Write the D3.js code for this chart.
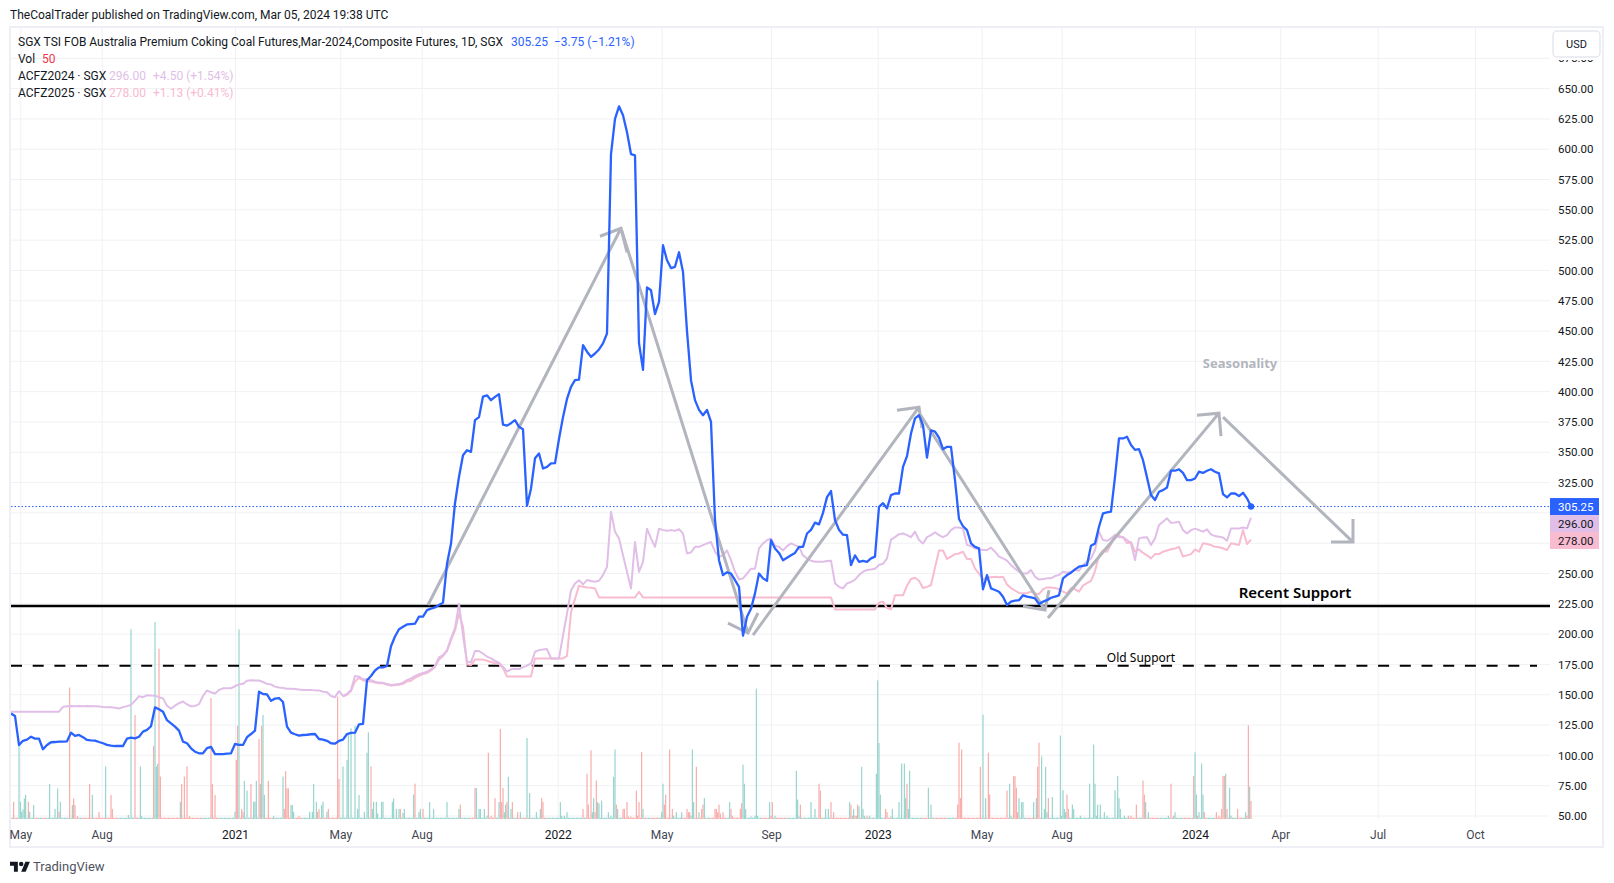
<!DOCTYPE html>
<html>
<head>
<meta charset="utf-8">
<title>Coking Coal Futures</title>
<script src="https://cdn.jsdelivr.net/npm/d3@7"></script>
<style>
  body { margin: 0; background: #fff; }
  svg { display: block; font-family: Roboto, sans-serif; }
</style>
</head>
<body>
<svg id="chart" width="1614" height="883"></svg>
<script>
// closes, one value every 3 sessions
var sessionStep = 3;
var frontMonth = [
  134.5,132.5,108.5,112,113,115.4,113.8,113.8,105,108.6,
  110.8,111,111.3,111.3,111.6,118.7,116,116.8,115,112.7,
  112.4,112.2,111,110,108.6,108,107.7,107.7,107.7,113.8,
  114.6,114,115.4,119.6,121,124,139.6,138,136,129,
  126.4,123.7,120.4,111.3,110,105.8,103,101.7,101.7,106,
  107,101,101,101,101.4,101.7,109.4,108.6,108.6,115,
  117.6,120.4,152.5,150.6,150.3,145,146.8,147.3,144,123.7,
  118.7,117.4,116.3,116.8,117,117.4,117.6,113.5,113,112,
  110,109.6,112,113,117.6,118.5,118.7,125.6,126,162,
  165.5,170,172.6,172.6,173.7,190,198,204,206,208,
  208.3,208.6,214.4,214.4,219.8,221,222,224,226,258,
  274.5,308,329.8,347.6,351.7,350.4,376.5,379,396,397,
  393,395.7,398,372.9,372,374,376.5,371,369,306,
  320,345,349,336.6,338,340.8,341,361,379,394,
  404,409.5,410,438.4,433,428.8,431.5,434.8,439.8,448,
  596,625,635.4,628,614,596,595,440,418,486,
  483.7,464,474,520.8,508.4,502,503,515,498.8,450,
  409.5,393,385,380.6,385,375,294,261,248.7,251,
  250,244.6,239,198.7,214.3,221,233.6,250,246,244,
  277.5,270.7,267,261,263,265,267,272,272,283,
  286,292,290.5,300,313,318,294,286,282,281.7,
  257,265,259.7,260.5,259.7,262.5,263.9,305,308,303.7,
  314.7,316,316,338,346.8,365.5,378,380.6,372.4,345.7,
  368,367,362,352.6,354.5,354.5,327,295,289,285.8,
  274.8,272,270.7,237,248.7,237.7,236.4,235,230.9,224,
  226.8,227.6,228,232,230.9,230.3,229.5,224.8,226.8,228,
  230,231,232,246,248.7,250.7,253.4,255.6,256.4,257,
  273,274.8,288.6,299.6,300.4,301,329.8,361.4,361.4,362.8,
  356,352,352.6,343.5,329.3,314.7,310.6,317.4,318.8,321,
  334.8,334.8,335.9,333,327,327,328.4,334,333,334.8,
  336,334,332.6,315.5,312.8,316,316,313.9,316.6,312,
  305.25
];
var acfz2024 = [
  136,136,136,136,136,136,136,136,136,136,
  136,136,136,140,140.5,140.7,140.5,140.7,140.6,140.7,
  140.6,140.6,140.4,139.8,139.6,139.6,139.2,138.6,139.8,140.6,
  141.6,145,148.8,148,149.5,149.3,149.2,148,147,141,
  138.5,141,143,144.4,142,140.5,140.8,142.3,149,153.5,
  152,151,154,155.3,155.3,155.3,157,158.5,159,161.5,
  162,161.8,161.7,160.5,159,158.5,156.7,156,155.6,155,
  155,154.7,154.3,154,154,153.9,153.6,153.6,152.5,152,
  149,148,153,149,150.6,154,165.4,164.9,162.7,162.7,
  162,160.7,160,159.9,158.8,158,158.5,158.8,160,162,
  163.5,165.4,167,168,169,171,173.7,180.8,182.7,186.8,
  196.5,205,225,199,177,177,186,186,184,181.4,
  180,178,176.4,173,169,171,171.5,171.2,172.6,174,
  175.8,185.5,186.8,187.4,187.7,180,180,180,199,217,
  236,241.8,244.5,241,244.6,243.8,243.2,244,248.7,255.6,
  300.9,284.4,279,265,251.4,237.7,276,251.4,259.7,287,
  279,272,287,285.8,285.2,285.8,285.2,286.6,283,266.6,
  267.4,272,272,273.4,274.8,276,268,263.8,265,269,
  261,251.4,245,246,250,254,254,270.7,274.8,277.5,
  278.9,272.9,272,269,272.6,274.8,273.4,272,265,262.5,
  260.6,259.7,259.7,259.7,260.3,260.6,241.9,239,237.7,241.9,
  243,245,248.7,251.5,252.9,253.4,254,257,258,262.5,
  278,280,282.5,283,281.7,280,284.5,277.6,274.8,280,
  281.7,284,281.7,280,281.7,285.8,288,288,287,273.5,
  272.6,270.7,269.9,269.4,269.4,271.3,268,263.9,262.5,260.6,
  257,254,251.5,250,250,252.9,247.4,245,245.4,246,
  246,247.9,248.7,251.5,250.7,251.5,252.9,252.3,257,259.7,
  262.5,269.4,284.5,277.6,277,279,281.7,280,280,277.6,
  274.8,261,279,279.8,280,273.5,279,290,292.7,295.5,
  291.9,292,292.7,285.8,283,285.8,287,285.8,284.5,286.4,
  282.3,280.9,280.4,279.8,277,287.2,287.2,287.2,288,287.2,
  296
];
// the 2025 contract only shows from here, before that it sits under the 2024 line
var acfz2025Start = 83;
var acfz2025 = [
  148.5,150,153,161,164,162,161,
  161,160,159.5,159.5,158.5,157.5,158,158.3,159,161,
  161.5,164,165.5,167,168,170,173,179,182,186,
  195,203,217,206,175,174.5,179,179,179,178,
  177,176,175.5,172,165,165,165,165,165,165,
  165,180,180,180,180,180,180,180,180,182,
  218,229,240,239,238.5,238.3,237.7,230.3,230.3,230.3,
  230.3,230.3,230.3,230.3,230.3,230.3,230.3,235,230.3,230.3,
  230.3,230.3,230.3,230.3,230.3,230.3,230.3,230.3,230.3,230.3,
  230.3,230.3,230.3,230.3,230.3,230.3,230.3,230.3,230.3,230.3,
  230.3,230.3,230.3,230.3,230.3,230.3,230.3,230.3,230.3,230.3,
  230.3,230.3,230.3,230.3,230.3,230.3,230.3,230.3,230.3,230.3,
  230.3,230.3,230.3,230.3,230.3,230.3,220.4,220.4,220.4,220.4,
  220.4,220.4,220.4,220.4,220.4,220.4,220.4,226,226.8,221.5,
  220.4,232,232,232,240,245.5,246.5,244,238,239,
  240.5,255,269,269,262,264,266,266.5,268,262,
  262,254,250,245,247,247,247.4,247,247.4,241,
  238,236,234,233.6,234,235,233.6,233,237,238.5,
  238.5,238,237,235,233.6,238,237,235,240,242,
  244,252,265,269,268,274,282,281,280,275,
  276,268,270,267,265,262.5,266,266,268,269,
  270,270.6,272,264,265,266,270,268,274.9,274.3,
  273.5,272,271.6,270.8,269.4,274.9,274.3,273.5,285.9,274.3,
  278
];

// volume, only the sessions that stand out from the floor
var upSessions = [6,7,8,9,10,11,14,17,29,33,35,37,46,61,71,88,90,97,98,108,109,110,127,168,171,175,177,182,183,184,187,189,190,197,204,210,211,212,224,226,227,229,233,234,237,249,252,253,255,258,260,261,265,267,268,271,272,274,275,278,279,286,287,289,291,294,295,302,306,307,314,317,327,336,349,351,352,355,357,366,370,371,373,375,382,387,389,394,397,412,413,415,417,436,437,440,441,443,448,450,452,453,455,474,488,489,497,499,503,510,511,512,516,520,539,549,550,551,555,558,559,560,569,573,589,590,591,600,603,611,613,629,632,634,636,638,639,640,644,649,650,651,652,660,661,666,668,670,671,673,674,688,690,729,731,749,750,756,758,759,767,769,773,775,776,777,781,787,788,789,790,791,796,797,802,809,812,813,814,815,817,820,822,828,830,831,832,835,851,853,868,873,888,889,891,893,894,911,914,915,926,929];
var upLots = [206,48,20,27,57,67,20,39,97,28,85,48,39,67,146,11,527,146,8,547,146,153,48,20,527,106,79,48,48,106,97,289,67,8,118,39,39,20,20,20,97,48,39,48,20,146,164,234,252,259,28,67,20,184,241,28,48,48,16,48,48,48,57,28,28,17,28,68,19,28,47,28,47,28,86,28,28,28,9,47,19,40,117,28,19,225,72,19,28,47,9,9,19,19,58,47,43,51,19,9,117,193,28,28,19,98,9,19,19,9,193,47,19,58,47,151,98,28,7,9,362,9,47,9,134,54,7,47,28,28,28,47,28,9,35,145,28,9,9,126,385,211,68,7,28,47,154,154,58,28,134,87,40,290,58,98,9,58,47,47,47,58,174,28,145,19,61,232,9,80,28,19,40,28,9,98,207,98,9,40,40,19,9,80,119,58,28,9,47,19,9,19,185,68,19,154,68,126,87,9,19,90];
var downSessions = [2,13,36,44,47,48,50,59,66,75,76,93,107,111,112,128,130,132,134,150,151,153,169,170,173,174,180,186,188,193,205,206,207,208,216,230,231,238,245,246,270,292,303,309,337,348,358,360,363,367,368,369,372,376,380,398,399,429,432,433,435,438,439,454,459,460,462,463,465,469,470,471,473,490,491,494,496,507,508,509,514,518,519,528,529,530,531,532,534,540,541,547,548,570,571,592,606,607,615,617,630,631,633,635,642,656,657,672,710,711,712,713,727,733,734,747,752,753,754,755,770,771,778,792,793,838,840,844,849,850,870,872,887,890,895,904,906,908,909,910,912,920,927,928,930];
var downLots = [48,48,20,365,57,39,8,97,20,67,28,289,203,473,118,97,118,146,8,336,97,67,164,259,28,20,97,222,259,106,28,133,85,85,8,20,28,28,340,111,146,28,98,28,40,86,184,9,58,250,47,86,47,47,19,58,47,28,126,40,191,19,107,40,28,28,47,7,7,79,9,47,186,40,68,193,28,28,19,19,145,28,40,28,28,19,40,15,19,28,9,28,44,9,47,40,98,79,47,19,40,9,9,40,9,28,19,98,40,212,58,193,145,184,68,79,119,119,87,19,145,212,58,68,28,9,9,40,107,68,98,9,119,9,19,19,9,28,120,119,28,28,9,260,50];
var volFloor = 3.5;

var priceTicks = [50,75,100,125,150,175,200,225,250,275,300,325,350,375,400,425,450,475,500,525,550,575,600,625,650,675];
var hiddenPriceLabels = [275,300];
var tickSessions = [7,68,168,247,308,410,488,570,650,728,788,888,952,1025,1098];
var tickLabels = ["May","Aug","2021","May","Aug","2022","May","Sep","2023","May","Aug","2024","Apr","Jul","Oct"];

var recentSupport = 223.3;
var oldSupport = 174;
var lastPrices = [
  { value: 305.25, fill: "#2962ff", text: "#ffffff" },
  { value: 296, fill: "#e1bee7", text: "#131722" },
  { value: 278, fill: "#f8bbd0", text: "#131722" }
];
// drawn arrows: start, tip, two barbs, as [session, price]
var arrows = [
  [[312.75,224],[457.5,534.8],[441.75,528.2],[462,515]],
  [[458,533],[552.75,200.9],[537.75,209],[560.25,217.4]],
  [[556.5,199.2],[681,387.2],[664.5,384.7],[683.25,370]],
  [[682,381],[775.5,219.8],[759,223],[778.5,236.3]],
  [[777.75,213.3],[906,382.3],[889.5,380.6],[907.5,363.3]],
  [[909,379],[1006.5,275.9],[990,275.9],[1006.5,294.9]]
];

var plotLeft = 11, plotRight = 1550, plotTop = 28, plotBottom = 819;
var svg = d3.select("#chart");

var x = d3.scaleLinear().domain([0, 1154.25]).range([plotLeft, plotRight]);
var y = d3.scaleLinear().domain([47.5, 700]).range([plotBottom, plotTop]);
var vol = d3.scaleLinear().domain([0, 550]).range([plotBottom, plotBottom - 198]);

svg.append("defs").append("clipPath").attr("id", "plot")
  .append("rect").attr("x", plotLeft).attr("y", plotTop).attr("width", plotRight - plotLeft).attr("height", plotBottom - plotTop);

// frame
svg.append("rect").attr("x", 10).attr("y", 27).attr("width", 1593).attr("height", 820)
  .attr("fill", "#fff").attr("stroke", "#eeeff5").attr("stroke-width", 2);

// vertical grid + time axis
var xAxis = d3.axisBottom(x).tickValues(tickSessions)
  .tickFormat(function (d, i) { return tickLabels[i]; })
  .tickSize(plotTop - plotBottom).tickPadding(0);
var xg = svg.append("g").attr("transform", "translate(0," + plotBottom + ")").call(xAxis);
xg.select(".domain").remove();
xg.selectAll("line").attr("stroke", "#f0f1f4");
xg.selectAll("text")
  .attr("y", 11).attr("font-size", 12).attr("font-family", "Roboto")
  .attr("fill", function (d, i) { return isNaN(+tickLabels[i]) ? "#434651" : "#131722"; });

// horizontal grid + price axis
var yAxis = d3.axisRight(y).tickValues(priceTicks)
  .tickFormat(d3.format(".2f"))
  .tickSize(0).tickPadding(8);
var yg = svg.append("g").attr("transform", "translate(" + plotRight + ",0)").call(yAxis);
yg.select(".domain").remove();
yg.selectAll("text").attr("font-size", 11.5).attr("font-family", "Roboto").attr("fill", "#131722")
  .style("display", function (d) { return hiddenPriceLabels.indexOf(d) >= 0 ? "none" : null; });
svg.append("g").selectAll("line").data(priceTicks).join("line")
  .attr("x1", plotLeft).attr("x2", plotRight)
  .attr("y1", function (d) { return y(d); }).attr("y2", function (d) { return y(d); })
  .attr("stroke", "#f0f1f4");

var plot = svg.append("g").attr("clip-path", "url(#plot)");

// volume bars
var up = {}, down = {};
upSessions.forEach(function (s, i) { up[s] = upLots[i]; });
downSessions.forEach(function (s, i) { down[s] = downLots[i]; });
var lastSession = (frontMonth.length - 1) * sessionStep;
var bars = d3.range(0, lastSession + 1).map(function (s) {
  if (up[s] !== undefined) return { s: s, lots: up[s], rising: true };
  if (down[s] !== undefined) return { s: s, lots: down[s], rising: false };
  var k = Math.floor(s / sessionStep);
  return { s: s, lots: volFloor, rising: k == 0 || frontMonth[k] >= frontMonth[k - 1] };
});
plot.append("g").selectAll("rect").data(bars).join("rect")
  .attr("x", function (d) { return x(d.s) - 0.55; })
  .attr("width", 1.1)
  .attr("y", function (d) { return vol(d.lots); })
  .attr("height", function (d) { return vol(0) - vol(d.lots); })
  .attr("fill", function (d) { return d.rising ? "#8fd1c9" : "#f7a5a3"; });

// support lines
plot.append("line").attr("x1", plotLeft).attr("x2", plotRight)
  .attr("y1", y(recentSupport)).attr("y2", y(recentSupport))
  .attr("stroke", "#000").attr("stroke-width", 2.5);
plot.append("line").attr("x1", plotLeft).attr("x2", 1537)
  .attr("y1", y(oldSupport)).attr("y2", y(oldSupport))
  .attr("stroke", "#000").attr("stroke-width", 2).attr("stroke-dasharray", "11 10.7");

// price lines
function drawLine(values, offset, color, width) {
  var line = d3.line()
    .x(function (d, i) { return x((i + offset) * sessionStep); })
    .y(function (d) { return y(d); });
  plot.append("path").datum(values)
    .attr("d", line)
    .attr("fill", "none").attr("stroke", color).attr("stroke-width", width)
    .attr("stroke-linejoin", "round");
}
drawLine(acfz2025, acfz2025Start, "#f8bbd0", 2);
drawLine(acfz2024, 0, "#e1bee7", 2);

// last price dotted line
plot.append("line").attr("x1", plotLeft).attr("x2", plotRight)
  .attr("y1", y(305.25)).attr("y2", y(305.25))
  .attr("stroke", "#2962ff").attr("stroke-width", 1).attr("stroke-dasharray", "1.5 2");

// arrows
var arrowLine = d3.line().x(function (d) { return x(d[0]); }).y(function (d) { return y(d[1]); });
arrows.forEach(function (a) {
  plot.append("path").attr("d", arrowLine([a[0], a[1]]) + arrowLine([a[2], a[1], a[3]]))
    .attr("fill", "none").attr("stroke", "#b2b5be").attr("stroke-width", 3)
    .attr("stroke-linejoin", "miter");
});

drawLine(frontMonth, 0, "#2962ff", 2.3);
plot.append("circle").attr("cx", x(lastSession)).attr("cy", y(305.25)).attr("r", 3.2).attr("fill", "#2962ff");

// notes on the chart
function note(txt, cx, cy, size, weight, color) {
  svg.append("text").attr("x", cx).attr("y", cy).attr("text-anchor", "middle").attr("dy", "0.35em")
    .attr("font-family", "Noto Sans")
    .attr("font-size", size).attr("font-weight", weight).attr("fill", color).text(txt);
}
note("Recent Support", 1295, 593, 15, 600, "#000");
note("Old Support", 1141, 658, 12, 400, "#000");
note("Seasonality", 1240, 363, 13, 700, "#b2b5be");

// last price boxes, stacked when they would overlap
var boxY = -100;
lastPrices.forEach(function (p) {
  boxY = Math.max(y(p.value), boxY + 17);
  svg.append("rect").attr("x", plotRight).attr("y", boxY - 8.5).attr("width", 49).attr("height", 17).attr("fill", p.fill);
  svg.append("text").attr("x", 1558).attr("y", boxY).attr("dy", "0.35em")
    .attr("font-size", 11.5).attr("fill", p.text).text(d3.format(".2f")(p.value));
});

// USD button covers the top tick
svg.append("rect").attr("x", plotRight + 1).attr("y", 28).attr("width", 51).attr("height", 32).attr("fill", "#fff");
svg.append("rect").attr("x", 1553).attr("y", 31).attr("width", 47).attr("height", 26).attr("rx", 4)
  .attr("fill", "#fff").attr("stroke", "#e6e8ef").attr("stroke-width", 1.5);
svg.append("text").attr("x", 1576.5).attr("y", 44).attr("dy", "0.35em").attr("text-anchor", "middle")
  .attr("font-size", 11).attr("fill", "#131722").text("USD");

// header + legend
function label(txt, lx, ly, color) {
  svg.append("text").attr("x", lx).attr("y", ly).attr("dy", "0.35em")
    .attr("font-size", 12).attr("fill", color).text(txt);
}
label("TheCoalTrader published on TradingView.com, Mar 05, 2024 19:38 UTC", 10, 15, "#131722");
label("SGX TSI FOB Australia Premium Coking Coal Futures,Mar-2024,Composite Futures, 1D, SGX", 18, 42, "#131722");
label("305.25", 511, 42, "#2962ff");
label("\u22123.75 (\u22121.21%)", 554, 42, "#2962ff");
label("Vol", 18, 59, "#131722");
label("50", 42, 59, "#f23645");
label("ACFZ2024 \u00b7 SGX", 18, 76, "#131722");
label("296.00", 109, 76, "#e1bee7");
label("+4.50 (+1.54%)", 153, 76, "#e1bee7");
label("ACFZ2025 \u00b7 SGX", 18, 93, "#131722");
label("278.00", 109, 93, "#f8bbd0");
label("+1.13 (+0.41%)", 153, 93, "#f8bbd0");

// footer logo
var logo = svg.append("g").attr("transform", "translate(10,859.5) scale(0.56)").attr("fill", "#131722");
logo.append("path").attr("d", "M14 22H7V11H0V4h14v18zM28 22h-8l7.5-18h8L28 22z");
logo.append("circle").attr("cx", 20).attr("cy", 8).attr("r", 4);
svg.append("text").attr("x", 33).attr("y", 866).attr("dy", "0.35em")
  .attr("font-size", 13).attr("fill", "#50535e").text("TradingView");
</script>
</body>
</html>
